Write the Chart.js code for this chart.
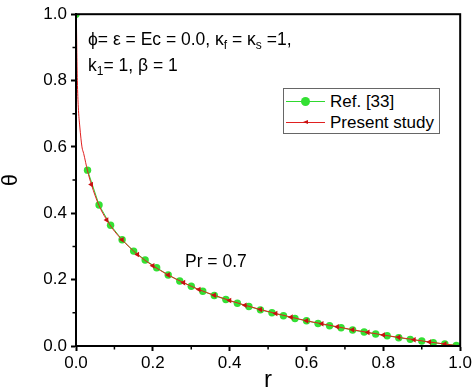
<!DOCTYPE html>
<html><head><meta charset="utf-8">
<script src="https://cdn.jsdelivr.net/npm/chart.js@4/dist/chart.umd.min.js"></script>
<style>
html,body{margin:0;padding:0;background:#fff;}
#wrap{position:relative;width:474px;height:389px;font-family:"Liberation Sans",Arial,sans-serif;color:#000;}
canvas{position:absolute;left:0;top:0;}
.ann{position:absolute;font-size:17.5px;white-space:nowrap;line-height:1;}
.ann sub{font-size:12px;vertical-align:-4px;line-height:0;}
#legend{position:absolute;left:283px;top:88px;width:155px;height:44px;border:1px solid #666;background:#fff;font-size:17px;}
.row{position:absolute;left:0;height:20px;width:155px;}
.sample{position:absolute;left:2px;top:10px;width:39px;height:1px;}
.lbl{position:absolute;left:46px;top:1px;white-space:nowrap;}
</style></head>
<body>
<div id="wrap">
<canvas id="c" width="474" height="389"></canvas>
<div class="ann" style="left:88px;top:31px;">ϕ= ε = Ec = 0.0, κ<sub>f</sub> = κ<sub>s</sub> =1,</div>
<div class="ann" style="left:88px;top:57px;">k<sub>1</sub>= 1, β = 1</div>
<div class="ann" style="left:185px;top:253px;">Pr = 0.7</div>
<div id="legend">
 <div class="row" style="top:2px;">
  <div class="sample" style="background:#2fd82f;"></div>
  <div style="position:absolute;left:17px;top:6px;width:9px;height:9px;border-radius:50%;background:#33e033;"></div>
  <div class="lbl">Ref. [33]</div>
 </div>
 <div class="row" style="top:23px;">
  <div class="sample" style="background:#e02020;"></div>
  <div style="position:absolute;left:19px;top:8px;width:0;height:0;border-top:2.5px solid transparent;border-bottom:2.5px solid transparent;border-right:5px solid #c81010;"></div>
  <div class="lbl">Present study</div>
 </div>
</div>
</div>
<script>
// Ref. [33] data
const refR = [0,0.03,0.06,0.09,0.12,0.15,0.18,0.21,0.24,0.27,0.30,0.33,0.36,0.39,0.42,0.45,0.48,0.51,0.54,0.57,0.60,0.63,0.66,0.69,0.72,0.75,0.78,0.81,0.84,0.87,0.90,0.93,0.96,0.99];
const refTheta = [1.0,0.530,0.425,0.364,0.320,0.286,0.259,0.236,0.214,0.196,0.180,0.165,0.152,0.140,0.129,0.119,0.109,0.100,0.091,0.083,0.076,0.068,0.061,0.055,0.048,0.042,0.036,0.031,0.025,0.020,0.015,0.010,0.006,0.002];
// Present study curve
const curveR = [0.001,0.002,0.0035,0.006,0.010,0.0155,0.020,0.030,0.040,0.060,0.080,0.100,0.120,0.160,0.200,0.240,0.280,0.320,0.360,0.400,0.440,0.480,0.520,0.560,0.600,0.640,0.680,0.720,0.760,0.800,0.840,0.880,0.920,0.960,1.000];
const curveTheta = [1.0,0.90,0.80,0.72,0.66,0.60,0.58,0.528,0.487,0.423,0.380,0.346,0.320,0.276,0.242,0.214,0.191,0.170,0.153,0.137,0.123,0.110,0.098,0.087,0.076,0.067,0.058,0.049,0.041,0.033,0.026,0.019,0.012,0.006,0.0];
// Present study markers
const markR = [0.04,0.08,0.12,0.16,0.20,0.24,0.28,0.32,0.36,0.40,0.44,0.48,0.52,0.56,0.60,0.64,0.68,0.72,0.76,0.80,0.84,0.88,0.92,0.96];
const markTheta = [0.487,0.380,0.320,0.276,0.242,0.214,0.191,0.170,0.153,0.137,0.123,0.110,0.098,0.087,0.076,0.067,0.058,0.049,0.041,0.033,0.026,0.019,0.012,0.006];
const xTicks = [0,0.2,0.4,0.6,0.8,1.0];
const yTicks = [0,0.2,0.4,0.6,0.8,1.0];
const minorTicks = [0.1,0.3,0.5,0.7,0.9];

const pts = (xs, ys) => xs.map((x, i) => ({x: x, y: ys[i]}));

const framePlugin = {
  id: 'frame',
  afterDraw(chart) {
    const ctx = chart.ctx, a = chart.chartArea;
    const xs = chart.scales.x, ys = chart.scales.y;
    ctx.save();
    ctx.strokeStyle = '#000';
    ctx.lineWidth = 2;
    ctx.strokeRect(a.left, a.top, a.right - a.left, a.bottom - a.top);
    ctx.lineWidth = 1.5;
    ctx.beginPath();
    minorTicks.forEach(v => {
      const px = xs.getPixelForValue(v);
      ctx.moveTo(px, a.bottom); ctx.lineTo(px, a.bottom + 3.5);
      const py = ys.getPixelForValue(v);
      ctx.moveTo(a.left, py); ctx.lineTo(a.left - 3.5, py);
    });
    ctx.stroke();
    ctx.restore();
  }
};

new Chart(document.getElementById('c'), {
  type: 'scatter',
  data: {
    datasets: [
      {
        label: 'Ref. [33]',
        data: pts(refR, refTheta),
        showLine: true,
        borderColor: '#2fd82f',
        borderWidth: 1,
        segment: { borderColor: c => c.p0DataIndex === 0 ? 'rgba(0,0,0,0)' : '#2fd82f' },
        backgroundColor: '#33e033',
        pointBackgroundColor: '#33e033',
        pointBorderWidth: 0,
        pointRadius: 3.7,
        clip: 0,
        order: 3
      },
      {
        label: 'Present study',
        data: pts(curveR, curveTheta),
        showLine: true,
        borderColor: '#e02020',
        borderWidth: 1,
        pointRadius: 0,
        cubicInterpolationMode: 'monotone',
        clip: 0,
        order: 2
      },
      {
        label: 'Present study markers',
        data: pts(markR, markTheta),
        showLine: false,
        pointStyle: 'triangle',
        rotation: -90,
        pointRadius: 3.2,
        pointBorderWidth: 0,
        pointBackgroundColor: '#c81010',
        clip: 0,
        order: 1
      }
    ]
  },
  options: {
    responsive: false,
    animation: false,
    layout: { padding: { top: 10, right: 13, left: 0, bottom: 0 } },
    plugins: { legend: { display: false }, tooltip: { enabled: false } },
    scales: {
      x: {
        type: 'linear', min: 0, max: 1,
        afterFit(s) { s.height = 43; },
        afterBuildTicks(s) { s.ticks = xTicks.map(v => ({value: v})); },
        ticks: { callback: v => v.toFixed(1), color: '#000', font: { family: 'Liberation Sans', size: 17 }, padding: 2, maxRotation: 0 },
        grid: { drawOnChartArea: false, tickLength: 5, tickWidth: 2, tickColor: '#000' },
        border: { color: '#000', width: 2 },
        title: { display: true, text: 'r', color: '#000', font: { family: 'Liberation Sans', size: 24, lineHeight: 1 }, padding: { top: 0, bottom: -3 } }
      },
      y: {
        type: 'linear', min: 0, max: 1,
        afterFit(s) { s.width = 76; },
        afterBuildTicks(s) { s.ticks = yTicks.map(v => ({value: v})); },
        ticks: { callback: v => v.toFixed(1), color: '#000', font: { family: 'Liberation Sans', size: 17 }, padding: 4 },
        grid: { drawOnChartArea: false, tickLength: 5, tickWidth: 2, tickColor: '#000' },
        border: { color: '#000', width: 2 },
        title: { display: true, text: 'θ', color: '#000', font: { family: 'Liberation Sans', size: 22, lineHeight: 1 }, padding: { top: 0, bottom: 0 } }
      }
    }
  },
  plugins: [framePlugin]
});
</script>
</body></html>
